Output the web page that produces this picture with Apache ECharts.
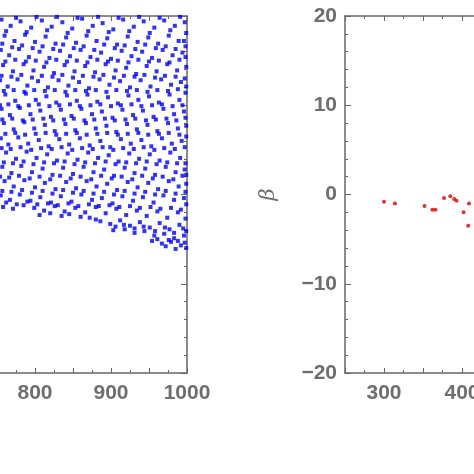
<!DOCTYPE html>
<html>
<head>
<meta charset="utf-8">
<script src="https://cdn.jsdelivr.net/npm/echarts@6/dist/echarts.min.js"></script>
<style>html,body{margin:0;padding:0;background:#fff}#c{width:474px;height:474px}</style>
</head>
<body>
<div id="c"></div>
<script>
// blue cloud (left panel)
const bluePoints = [
[756,19.6],[768,18.9],[781,19.4],[795,18.7],[809,19.5],[822,18.8],[836,19.3],[849,18.6],[862,19.7],[876,18.9],[889,19.2],[903,18.5],[916,19.6],[930,18.8],[943,19.4],[957,18.7],[970,19.5],[984,18.9],[997,19.3],
[760,17.8],[773,17.2],[787,17.9],[800,17.1],[814,17.7],[827,16.9],[841,17.6],[854,17.0],[868,17.8],[881,17.2],[895,17.5],[908,16.8],[922,17.7],[935,17.1],[949,17.6],[962,16.9],[976,17.8],[989,17.2],[998,16.6],
[755,16.2],[766,15.6],[779,16.3],[792,15.4],[806,16.0],[819,15.3],[833,16.1],[846,15.5],[860,16.2],[873,15.4],[887,15.9],[900,15.2],[914,16.1],[927,15.5],[941,16.0],[954,15.3],[968,16.2],[981,15.6],[994,15.9],
[758,14.5],[771,13.8],[785,14.6],[798,13.9],[812,14.3],[825,13.6],[839,14.5],[852,13.8],[866,14.4],[879,13.7],[893,14.6],[906,13.9],[920,14.2],[933,13.5],[947,14.4],[960,13.8],[974,14.6],[987,13.9],[999,14.3],
[754,12.8],[764,12.1],[777,12.9],[790,12.2],[804,12.7],[817,12.0],[831,12.8],[844,12.2],[858,12.6],[871,11.9],[885,12.9],[898,12.3],[912,12.7],[925,12.0],[939,12.8],[952,12.1],[966,12.9],[979,12.3],[992,12.6],
[761,11.2],[774,10.5],[788,11.3],[801,10.6],[815,11.0],[828,10.3],[842,11.1],[855,10.5],[869,11.2],[882,10.4],[896,10.9],[909,10.2],[923,11.1],[936,10.6],[950,11.0],[963,10.3],[977,11.2],[990,10.6],[998,11.4],
[756,9.6],[767,8.9],[780,9.7],[794,9.0],[807,9.4],[821,8.7],[834,9.5],[848,8.8],[861,9.6],[875,9.0],[888,9.3],[902,8.6],[915,9.5],[929,8.9],[942,9.4],[956,8.7],[969,9.6],[983,9.0],[996,9.3],
[759,8.0],[772,7.3],[786,8.1],[799,7.4],[813,7.8],[826,7.1],[840,7.9],[853,7.2],[867,8.0],[880,7.4],[894,7.7],[907,7.0],[921,7.9],[934,7.3],[948,7.8],[961,7.1],[975,8.0],[988,7.4],[999,7.7],
[755,6.3],[765,5.6],[778,6.4],[791,5.7],[805,6.1],[818,5.4],[832,6.2],[845,5.6],[859,6.3],[872,5.5],[886,6.0],[899,5.3],[913,6.2],[926,5.7],[940,6.1],[953,5.4],[967,6.3],[980,5.7],[993,6.0],
[762,4.7],[775,4.0],[789,4.8],[802,4.1],[816,4.5],[829,3.8],[843,4.6],[856,3.9],[870,4.7],[883,4.1],[897,4.4],[910,3.7],[924,4.6],[937,4.0],[951,4.5],[964,3.8],[978,4.7],[991,4.1],[998,3.5],
[757,3.1],[769,2.4],[782,3.2],[796,2.5],[810,2.9],[823,2.2],[837,3.0],[850,2.3],[864,3.1],[877,2.5],[891,2.8],[904,2.1],[918,3.0],[931,2.4],[945,2.9],[958,2.2],[972,3.1],[985,2.5],[997,2.8],
[760,1.5],[772,0.9],[786,1.6],[800,0.8],[813,1.3],[827,0.6],[841,1.4],[854,0.7],[868,1.5],[881,0.9],[895,1.2],[908,0.5],[922,1.4],[935,0.8],[949,1.3],[962,0.6],[976,1.5],[989,0.9],[999,1.2],
[755,-0.1],[767,-0.6],[780,0.0],[794,-0.7],[807,-0.3],[821,-0.9],[834,-0.2],[848,-0.8],[861,0.0],[875,-0.6],[888,-0.4],[902,-1.0],[915,-0.2],[929,-0.7],[942,-0.3],[956,-0.9],[969,-0.1],[983,-0.6],[996,-0.4],
[758,-1.4],[771,-1.6],[785,-1.2],[799,-1.5],[812,-1.8],[826,-1.3],[839,-1.9],[853,-1.5],[866,-2.0],[880,-1.4],[893,-2.1],[907,-1.6],[920,-2.3],[934,-1.8],[947,-2.4],[961,-1.9],[974,-2.6],[988,-2.0],[998,-2.7],
[820,-2.1],[845,-2.2],[872,-2.6],[886,-3.0],[899,-3.3],[912,-2.9],[925,-3.5],[938,-3.1],[951,-3.7],[964,-3.2],[977,-3.9],[990,-3.4],[999,-4.1],
[903,-4.0],[918,-3.9],[931,-4.3],[944,-4.1],[957,-4.6],[970,-4.4],[983,-4.9],[996,-4.6],[954,-5.2],[967,-5.5],[979,-5.3],[992,-5.7],[999,-6.0],[985,-6.1],[972,-5.8]
];

// more of the cloud, filling the gaps of the first set
const bluePoints2 = [
[762,18.3],[775,19.8],[789,18.2],[802,19.9],[816,18.4],[829,19.9],[843,18.1],[856,19.8],[870,18.3],[883,19.9],[897,18.2],[910,19.8],[924,18.3],[937,19.9],[951,18.1],[964,19.8],[978,18.4],[991,19.9],[999,18.1],
[757,16.9],[770,16.5],[783,16.7],[797,16.4],[810,16.6],[824,16.3],[837,16.8],[851,16.4],[864,16.6],[878,16.2],[891,16.8],[905,16.4],[918,16.7],[932,16.3],[945,16.8],[959,16.4],[972,16.6],[985,16.3],[996,17.2],
[761,14.9],[774,15.1],[788,14.9],[801,15.0],[815,14.8],[828,15.1],[842,14.9],[855,15.0],[869,14.8],[882,15.1],[896,14.9],[909,15.0],[923,14.8],[936,15.1],[950,14.9],[963,15.0],[977,14.8],[990,15.1],[998,15.4],
[756,13.3],[769,13.2],[782,13.4],[796,13.1],[809,13.3],[823,13.2],[836,13.4],[850,13.1],[863,13.3],[877,13.2],[890,13.4],[904,13.1],[917,13.3],[931,13.2],[944,13.4],[958,13.1],[971,13.3],[985,13.2],[997,13.0],
[759,11.6],[772,11.7],[786,11.5],[799,11.7],[813,11.6],[826,11.7],[840,11.5],[853,11.7],[867,11.6],[880,11.7],[894,11.5],[907,11.7],[921,11.6],[934,11.7],[948,11.5],[961,11.7],[975,11.6],[988,11.8],[999,12.1],
[754,10.0],[765,10.1],[778,9.9],[792,10.0],[805,10.1],[819,9.9],[832,10.0],[846,10.1],[859,9.9],[873,10.0],[886,10.1],[900,9.9],[913,10.0],[927,10.1],[940,9.9],[954,10.0],[967,10.1],[981,9.9],[994,10.0],
[757,8.4],[770,8.5],[784,8.3],[797,8.4],[811,8.5],[824,8.3],[838,8.4],[851,8.5],[865,8.3],[878,8.4],[892,8.5],[905,8.3],[919,8.4],[932,8.5],[946,8.3],[959,8.4],[973,8.5],[986,8.3],[998,8.6],
[761,6.8],[774,6.9],[787,6.7],[801,6.8],[814,6.9],[828,6.7],[841,6.8],[855,6.9],[868,6.7],[882,6.8],[895,6.9],[909,6.7],[922,6.8],[936,6.9],[949,6.7],[963,6.8],[976,6.9],[990,6.7],[999,6.5],
[756,5.2],[768,5.1],[781,5.3],[795,5.0],[808,5.2],[822,5.1],[835,5.3],[849,5.0],[862,5.2],[876,5.1],[889,5.3],[903,5.0],[916,5.2],[930,5.1],[943,5.3],[957,5.0],[970,5.2],[984,5.1],[997,5.3],
[759,3.6],[771,3.5],[785,3.7],[798,3.4],[812,3.6],[825,3.5],[839,3.7],[852,3.4],[866,3.6],[879,3.5],[893,3.7],[906,3.4],[920,3.6],[933,3.5],[947,3.7],[960,3.4],[974,3.6],[987,3.5],[999,2.2],
[754,2.0],[766,1.9],[779,2.1],[793,1.8],[806,2.0],[820,1.7],[833,2.1],[847,1.8],[860,2.0],[874,1.7],[887,2.1],[901,1.8],[914,2.0],[928,1.7],[941,2.1],[955,1.8],[968,2.0],[982,1.7],[994,2.1],
[757,0.4],[769,0.3],[783,0.5],[796,0.2],[810,0.4],[823,0.1],[837,0.5],[850,0.2],[864,0.4],[877,0.1],[891,0.3],[904,0.0],[918,0.4],[931,0.1],[945,0.3],[958,0.0],[972,0.4],[985,0.1],[998,0.3],
[762,-0.9],[776,-1.1],[790,-0.8],[803,-1.1],[817,-1.0],[830,-1.2],[844,-1.0],[857,-1.3],[871,-1.1],[884,-1.3],[898,-1.2],[911,-1.4],[925,-1.3],[938,-1.5],[952,-1.4],[965,-1.6],[979,-1.5],[992,-1.7],[999,-1.1],
[806,-2.3],[835,-2.4],[860,-2.5],[880,-2.8],[906,-3.6],[917,-3.4],[931,-3.8],[943,-3.6],[958,-4.1],[971,-3.7],[983,-4.3],[995,-3.8],[961,-5.0],[976,-5.1],[988,-5.2],[997,-5.4]
];

// red points (right panel)
const redX = [300, 314, 352, 362, 366, 377, 385, 390, 393, 402, 409, 408];
const redY = [-0.8, -1.0, -1.3, -1.7, -1.7, -0.4, -0.2, -0.5, -0.7, -2.0, -1.0, -3.5];

const chart = echarts.init(document.getElementById('c'));
const axisColor = '#666';
const labelStyle = { color: '#6e6e6e', fontSize: 21, fontWeight: 'bold', fontFamily: 'Liberation Sans' };

function xAxisOf(idx, pos, showLabel) {
    return {
        gridIndex: idx, type: 'value', min: 250, max: 1000, interval: 50, position: pos,
        axisLine: { show: true, onZero: false, lineStyle: { color: axisColor, width: 1.5 } },
        axisTick: { show: true, inside: true, length: 5, lineStyle: { color: axisColor } },
        minorTick: { show: true, splitNumber: 2, length: 3, lineStyle: { color: axisColor } },
        axisLabel: Object.assign({
            show: showLabel, margin: 10, showMinLabel: false,
            formatter: v => (v % 100 === 0 ? String(v) : '')
        }, labelStyle),
        splitLine: { show: false }
    };
}
function yAxisOf(idx, pos, showLabel, name) {
    return {
        gridIndex: idx, type: 'value', min: -20, max: 20, interval: 10, position: pos,
        name: name, nameLocation: 'middle', nameGap: 66, nameRotate: 90,
        nameTextStyle: { color: '#6e6e6e', fontSize: 21, fontStyle: 'italic', fontFamily: 'DejaVu Serif' },
        axisLine: { show: true, onZero: false, lineStyle: { color: axisColor, width: 1.5 } },
        axisTick: { show: true, inside: true, length: 6, lineStyle: { color: axisColor } },
        minorTick: { show: true, splitNumber: 5, length: 3, lineStyle: { color: axisColor } },
        axisLabel: Object.assign({
            show: showLabel, margin: 8,
            formatter: v => (v < 0 ? '\u2212' + Math.abs(v) : String(v))
        }, labelStyle),
        splitLine: { show: false }
    };
}

chart.setOption({
    animation: false,
    grid: [
        { left: -383, top: 16, width: 570, height: 357, containLabel: false, outerBoundsMode: 'none' },
        { left: 345, top: 16, width: 585, height: 357, containLabel: false, outerBoundsMode: 'none' }
    ],
    xAxis: [
        xAxisOf(0, 'bottom', true), xAxisOf(0, 'top', false),
        xAxisOf(1, 'bottom', true), xAxisOf(1, 'top', false)
    ],
    yAxis: [
        yAxisOf(0, 'left', false, ''), yAxisOf(0, 'right', false, ''),
        yAxisOf(1, 'left', true, 'β'), yAxisOf(1, 'right', false, '')
    ],
    series: [
        {
            type: 'scatter', xAxisIndex: 0, yAxisIndex: 0, symbol: 'rect', symbolSize: 4,
            itemStyle: { color: '#0000f0' }, data: bluePoints
        },
        {
            type: 'scatter', xAxisIndex: 0, yAxisIndex: 0, symbol: 'rect', symbolSize: 4,
            itemStyle: { color: '#0000f0' }, data: bluePoints2
        },
        {
            type: 'scatter', xAxisIndex: 2, yAxisIndex: 2, symbolSize: 4,
            itemStyle: { color: '#dd0000' }, data: redX.map((x, i) => [x, redY[i]])
        }
    ]
});
</script>
</body>
</html>
